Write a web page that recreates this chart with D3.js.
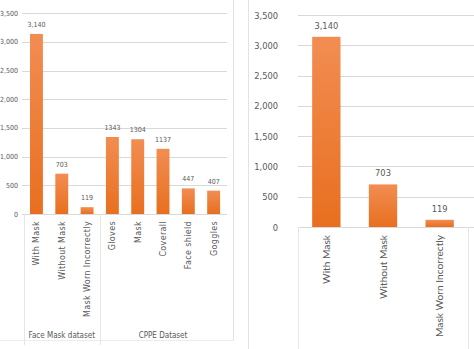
<!DOCTYPE html>
<html><head><meta charset="utf-8">
<script src="https://cdn.jsdelivr.net/npm/d3@7"></script>
<style>body{margin:0;background:#fff}svg{display:block}</style>
</head><body>
<script>
// Data
const leftCategories = ["With Mask","Without Mask","Mask Worn Incorrectly","Gloves","Mask","Coverall","Face shield","Goggles"];
const leftValues = [3140, 703, 119, 1343, 1304, 1137, 447, 407];
const leftValueLabels = ["3,140","703","119","1343","1304","1137","447","407"];
const leftGroups = ["Face Mask dataset","CPPE Dataset"];
const leftGroupSizes = [3, 5];
const rightCategories = ["With Mask","Without Mask","Mask Worn Incorrectly"];
const rightValues = [3140, 703, 119];
const yTicks = [0,500,1000,1500,2000,2500,3000,3500];

const W = 474, H = 349;
const svg = d3.select("body").append("svg").attr("width", W).attr("height", H);
const defs = svg.append("defs");
const grad = defs.append("linearGradient").attr("id","barg").attr("x1",0).attr("y1",0).attr("x2",0).attr("y2",1);
grad.append("stop").attr("offset","0%").attr("stop-color","#f28d52");
grad.append("stop").attr("offset","100%").attr("stop-color","#e86f1f");

const txt = "#595959", grid = "#d9d9d9";
const fmt = d3.format(",");

// Panel frames
svg.append("line").attr("x1",233.5).attr("x2",233.5).attr("y1",0).attr("y2",341).attr("stroke","#e3e3e3");
svg.append("line").attr("x1",0).attr("x2",233.5).attr("y1",340.5).attr("y2",340.5).attr("stroke","#ececec");
svg.append("line").attr("x1",248.5).attr("x2",248.5).attr("y1",0).attr("y2",349).attr("stroke","#e3e3e3");

// ---------- Left chart ----------
const L = svg.append("g");
const lfont = "'Liberation Sans Narrow','DejaVu Sans Condensed',Arial,sans-serif";
const ly = d3.scaleLinear().domain([0,3500]).range([214,13.3]);
const lx = d3.scaleBand().domain(leftCategories).range([23.8,226.3]).paddingInner(0.49).paddingOuter(0.245);

L.selectAll("line.g").data(yTicks).join("line")
  .attr("x1",22).attr("x2",227).attr("y1",d=>Math.round(ly(d))+0.5).attr("y2",d=>Math.round(ly(d))+0.5)
  .attr("stroke",grid).attr("stroke-width",1);
L.selectAll("text.yt").data(yTicks).join("text")
  .attr("x",18).attr("y",d=>ly(d)+2.5).attr("text-anchor","end")
  .attr("font-family",lfont).attr("font-size",7).attr("fill",txt).text(d=>fmt(d));

L.selectAll("rect.b").data(leftValues).join("rect")
  .attr("x",(d,i)=>lx(leftCategories[i])).attr("width",lx.bandwidth())
  .attr("y",d=>ly(d)).attr("height",d=>ly(0)-ly(d)).attr("fill","url(#barg)");
L.selectAll("text.v").data(leftValues).join("text")
  .attr("x",(d,i)=>lx(leftCategories[i])+lx.bandwidth()/2).attr("y",d=>ly(d)-7)
  .attr("text-anchor","middle").attr("font-family",lfont).attr("font-size",7).attr("fill",txt)
  .text((d,i)=>leftValueLabels[i]);
L.selectAll("text.c").data(leftCategories).join("text")
  .attr("transform",d=>`translate(${lx(d)+lx.bandwidth()/2+3},221) rotate(-90)`)
  .attr("text-anchor","end").attr("font-family","'DejaVu Sans',sans-serif").attr("font-size",8)
  .attr("letter-spacing",0.35).attr("fill",txt).text(d=>d);

// group separators and labels
let acc = 0;
const bounds = [lx.range()[0]];
leftGroupSizes.forEach(s=>{acc+=s; bounds.push(acc>=leftCategories.length? lx.range()[1] : lx(leftCategories[acc]) - lx.step()*lx.paddingInner()/2);});
L.selectAll("line.sep").data(bounds.slice(0,2)).join("line")
  .attr("x1",d=>Math.round(d)+0.5).attr("x2",d=>Math.round(d)+0.5).attr("y1",214).attr("y2",345)
  .attr("stroke","#e6e6e6");
L.selectAll("text.grp").data(leftGroups).join("text")
  .attr("x",(d,i)=>(bounds[i]+bounds[i+1])/2).attr("y",338)
  .attr("text-anchor","middle").attr("font-family",lfont).attr("font-size",8).attr("fill",txt)
  .text(d=>d);

// ---------- Right chart ----------
const R = svg.append("g");
const rfont = "'DejaVu Sans',Verdana,sans-serif";
const ry = d3.scaleLinear().domain([0,3500]).range([227,15]);
const rx = d3.scaleBand().domain(rightCategories).range([298,468]).paddingInner(0.5).paddingOuter(0.25);

R.selectAll("line.g").data(yTicks).join("line")
  .attr("x1",298).attr("x2",474).attr("y1",d=>Math.round(ry(d))+0.5).attr("y2",d=>Math.round(ry(d))+0.5)
  .attr("stroke",grid);
R.selectAll("text.yt").data(yTicks).join("text")
  .attr("x",278).attr("y",d=>ry(d)+3.5).attr("text-anchor","end")
  .attr("font-family",rfont).attr("font-size",8.3).attr("fill",txt).text(d=>fmt(d));
R.selectAll("rect.b").data(rightValues).join("rect")
  .attr("x",(d,i)=>rx(rightCategories[i])).attr("width",rx.bandwidth())
  .attr("y",d=>ry(d)).attr("height",d=>ry(0)-ry(d)).attr("fill","url(#barg)");
R.selectAll("text.v").data(rightValues).join("text")
  .attr("x",(d,i)=>rx(rightCategories[i])+rx.bandwidth()/2).attr("y",d=>ry(d)-8)
  .attr("text-anchor","middle").attr("font-family",rfont).attr("font-size",8.3).attr("fill",txt)
  .text(d=>fmt(d));
R.selectAll("text.c").data(rightCategories).join("text")
  .attr("transform",d=>`translate(${rx(d)+rx.bandwidth()/2+3.5},235) rotate(-90)`)
  .attr("text-anchor","end").attr("font-family","Lato,'Open Sans',sans-serif").attr("font-size",10.2)
  .attr("fill",txt).text(d=>d);
R.selectAll("line.ax").data(rx.range()).join("line")
  .attr("x1",d=>Math.round(d)+0.5).attr("x2",d=>Math.round(d)+0.5).attr("y1",227).attr("y2",349)
  .attr("stroke","#e6e6e6");
</script>
</body></html>
